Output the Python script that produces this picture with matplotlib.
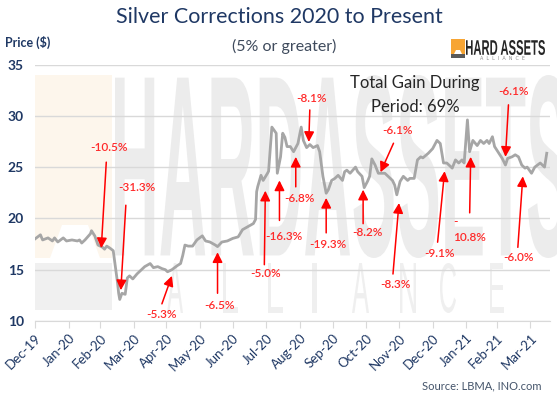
import matplotlib
matplotlib.use("Agg")
import matplotlib.pyplot as plt
import matplotlib.transforms as mtransforms
from matplotlib.textpath import TextPath
from matplotlib.patches import PathPatch, Rectangle, Polygon
from matplotlib.font_manager import FontProperties
import pandas as pd

W, H = 557, 397

# silver price
dates = [
    "2019-12-31", "2020-01-05", "2020-01-07", "2020-01-12", "2020-01-16", "2020-01-18",
    "2020-01-21", "2020-01-26", "2020-01-29", "2020-02-03", "2020-02-08", "2020-02-10",
    "2020-02-12", "2020-02-15", "2020-02-20", "2020-02-21", "2020-02-24", "2020-02-27",
    "2020-03-02", "2020-03-04", "2020-03-06", "2020-03-09", "2020-03-12", "2020-03-14",
    "2020-03-16", "2020-03-17", "2020-03-18", "2020-03-20", "2020-03-23", "2020-03-25",
    "2020-03-27", "2020-03-30", "2020-04-03", "2020-04-08", "2020-04-10", "2020-04-15",
    "2020-04-18", "2020-04-22", "2020-04-26", "2020-04-29", "2020-05-01", "2020-05-05",
    "2020-05-10", "2020-05-13", "2020-05-15", "2020-05-17", "2020-05-20", "2020-05-24",
    "2020-05-28", "2020-06-02", "2020-06-05", "2020-06-09", "2020-06-14", "2020-06-16",
    "2020-06-20", "2020-06-25", "2020-06-30", "2020-07-05", "2020-07-09", "2020-07-14",
    "2020-07-19", "2020-07-21", "2020-07-22", "2020-07-23", "2020-07-26", "2020-07-28",
    "2020-08-01", "2020-08-02", "2020-08-05", "2020-08-09", "2020-08-10", "2020-08-13",
    "2020-08-15", "2020-08-17", "2020-08-19", "2020-08-22", "2020-08-25", "2020-08-29",
    "2020-09-01", "2020-09-03", "2020-09-06", "2020-09-09", "2020-09-12", "2020-09-16",
    "2020-09-18", "2020-09-21", "2020-09-24", "2020-09-26", "2020-09-29", "2020-10-02",
    "2020-10-05", "2020-10-09", "2020-10-11", "2020-10-13", "2020-10-16", "2020-10-21",
    "2020-10-23", "2020-10-27", "2020-10-29", "2020-11-01", "2020-11-03", "2020-11-05",
    "2020-11-08", "2020-11-11", "2020-11-15", "2020-11-17", "2020-11-20", "2020-11-24",
    "2020-11-26", "2020-11-28", "2020-12-01", "2020-12-04", "2020-12-08", "2020-12-10",
    "2020-12-14", "2020-12-17", "2020-12-20", "2020-12-22", "2020-12-27", "2020-12-31",
    "2021-01-04", "2021-01-07", "2021-01-10", "2021-01-13", "2021-01-18", "2021-01-21",
    "2021-01-24", "2021-01-27", "2021-01-29", "2021-02-01", "2021-02-03", "2021-02-06",
    "2021-02-10", "2021-02-13", "2021-02-16", "2021-02-19", "2021-02-21", "2021-02-24",
    "2021-02-26", "2021-03-01", "2021-03-05", "2021-03-08", "2021-03-10", "2021-03-14",
    "2021-03-17", "2021-03-20", "2021-03-23", "2021-03-26", "2021-03-28", "2021-04-01",
    "2021-04-04", "2021-04-09", "2021-04-13", "2021-04-15",
]
prices = [
    18.0, 18.4, 17.9, 18.1, 17.8, 18.1,
    17.7, 18.1, 17.8, 17.9, 17.8, 17.9,
    17.6, 17.9, 18.5, 18.8, 18.3, 17.4,
    17.2, 17.0, 17.3, 17.1, 16.85, 15.3,
    13.7, 12.7, 12.1, 12.7, 12.6, 14.2,
    14.4, 14.1, 14.6, 15.1, 15.3, 15.6,
    15.2, 15.3, 15.1, 15.0, 14.8, 15.0,
    15.4, 15.6, 16.4, 17.4, 17.3, 17.3,
    17.9, 18.3, 17.8, 17.7, 17.4, 17.25,
    17.7, 17.8, 18.05, 18.2, 18.9, 19.2,
    19.5, 19.9, 22.6, 23.1, 24.2, 23.7,
    24.4, 24.6, 28.9, 28.3, 24.4, 26.0,
    28.3, 27.9, 27.0, 27.0, 26.5, 27.3,
    28.9, 27.6, 26.9, 27.2, 26.9, 27.1,
    26.5, 24.1, 22.45, 22.8, 23.7, 23.9,
    24.2, 23.7, 24.55, 24.7, 24.4, 25.0,
    24.55, 24.1, 23.0, 23.6, 24.1, 25.8,
    25.2, 24.4, 24.4, 24.4, 24.1, 23.7,
    23.25, 22.3, 23.6, 24.1, 23.7, 23.9,
    23.9, 25.7, 26.0, 25.9, 26.35, 26.8,
    27.6, 27.3, 25.4, 25.4, 24.9, 25.7,
    25.4, 25.7, 25.4, 29.6, 26.5, 27.6,
    27.1, 27.6, 27.3, 27.6, 27.3, 27.96,
    27.0, 26.5, 25.85, 25.2, 25.85, 26.0,
    26.2, 26.0, 25.2, 24.9, 25.0, 24.4,
    25.0, 25.4, 25.0, 26.35,
]

tick_dates = ["2019-12-31", "2020-01-31", "2020-02-29", "2020-03-31", "2020-04-30",
              "2020-05-31", "2020-06-30", "2020-07-31", "2020-08-31", "2020-09-30",
              "2020-10-31", "2020-11-30", "2020-12-31", "2021-01-31", "2021-02-28",
              "2021-03-31"]
tick_labels = ["Dec-19", "Jan-20", "Feb-20", "Mar-20", "Apr-20", "May-20", "Jun-20",
               "Jul-20", "Aug-20", "Sep-20", "Oct-20", "Nov-20", "Dec-20", "Jan-21",
               "Feb-21", "Mar-21"]
y_ticks = [10, 15, 20, 25, 30, 35]

# corrections: label, date of the low, level of the low
corr_labels = ["-10.5%", "-31.3%", "-5.3%", "-6.5%", "-5.0%", "-16.3%", "-6.8%", "-8.1%",
               "-19.3%", "-8.2%", "-6.1%", "-8.3%", "-9.1%", "10.8%", "-6.1%", "-6.0%"]
corr_dates = ["2020-03-01", "2020-03-19", "2020-05-05", "2020-06-16", "2020-07-30",
              "2020-08-12", "2020-08-27", "2020-09-08", "2020-09-24", "2020-10-28",
              "2020-11-13", "2020-11-30", "2021-01-11", "2021-02-04", "2021-03-08",
              "2021-03-24"]
corr_levels = [17.1, 13.0, 14.4, 16.7, 22.7, 23.7, 26.0, 27.45, 22.0, 22.8, 24.5, 21.5,
               24.6, 26.0, 26.0, 24.1]
# arrow start and label offsets (pixels from the arrow tip)
arrow_off = [(5, 86), (5, 85), (-10, -28), (0, -41), (-1, -74), (0, -40), (0, -30), (1, 32),
             (0, -35), (0, -34), (13, 29), (-6, -71), (-7, -71), (-1, -56), (3, 52), (-5, -71)]
label_off = [(8, 101), (16, 103), (-10, -39), (2, -53), (0, -83), (4, -56), (4, -42), (3, 43),
             (2, -47), (4, -43), (17, 42), (-4, -81), (-5, -82), (-1, -81), (8, 65), (-4, -81)]

NAVY = "#1f3864"
RED = "#ff0000"
FONT = "Lato"

fig = plt.figure(figsize=(W / 100, H / 100), dpi=100)


def fx(x):
    return x / W


def fy(y):
    return 1 - y / H


def text_in_box(s, x0, y0, x1, y1, color, weight="bold", family="Liberation Sans", z=-5):
    fp = FontProperties(family=family, weight=weight)
    tp = TextPath((0, 0), s, prop=fp, size=100)
    bb = tp.get_extents()
    tr = (mtransforms.Affine2D().translate(-bb.x0, -bb.y0)
          .scale((x1 - x0) / bb.width / W, (y1 - y0) / bb.height / H)
          .translate(fx(x0), fy(y1)))
    fig.add_artist(PathPatch(tr.transform_path(tp), facecolor=color, edgecolor="none",
                             transform=fig.transFigure, zorder=z))


# faded logo watermark behind the plot
fig.add_artist(Rectangle((fx(35), fy(258)), 77 / W, 183 / H, transform=fig.transFigure,
                         facecolor="#fdf6ec", edgecolor="none", zorder=-6))
fig.add_artist(Polygon([(fx(50), fy(258)), (fx(62), fy(225)), (fx(88), fy(225)), (fx(100), fy(258))],
                       transform=fig.transFigure, facecolor="white", edgecolor="none", zorder=-5))
fig.add_artist(Rectangle((fx(35), fy(310)), 77 / W, 47 / H, transform=fig.transFigure,
                         facecolor="#f0f0f0", edgecolor="none", zorder=-6))
text_in_box("HARDASSETS", 115, 75, 568, 258, "#ececec")
for ch, x0, x1 in [("A", 167, 183), ("L", 223, 238), ("L", 268, 283), ("I", 312, 317),
                   ("A", 352, 369), ("N", 400, 416), ("C", 440, 456), ("E", 490, 504)]:
    text_in_box(ch, x0, 263, x1, 313, "#efefef", weight="normal")

ax = fig.add_axes([fx(35), fy(321), 515 / W, 256.5 / H])
ax.set_facecolor("none")
ax.plot(pd.to_datetime(dates), prices, color="#a6a6a6", lw=2.0, solid_joinstyle="round", zorder=3)

ax.set_xlim(pd.Timestamp("2019-12-31"), pd.Timestamp("2021-04-18"))
ax.set_ylim(10, 35)
ax.set_yticks(y_ticks)
ax.set_yticklabels([str(v) for v in y_ticks], fontfamily=FONT, fontweight="bold",
                   fontsize=10, color=NAVY)
ax.set_xticks(pd.to_datetime(tick_dates))
ax.set_xticklabels(tick_labels, rotation=45, ha="right", rotation_mode="anchor",
                   fontfamily=FONT, fontsize=9.5, color=NAVY)
ax.tick_params(axis="y", length=0, pad=8)
ax.tick_params(axis="x", length=5, color="#d9d9d9", pad=3)
ax.yaxis.grid(True, color="#d9d9d9", lw=1)
ax.set_axisbelow(True)
for side in ["left", "right", "top"]:
    ax.spines[side].set_visible(False)
ax.spines["bottom"].set_color("#d9d9d9")

for lab, d, lev, ao, lo in zip(corr_labels, corr_dates, corr_levels, arrow_off, label_off):
    tip = (pd.Timestamp(d), lev)
    ax.annotate("", xy=tip, xytext=ao, textcoords="offset pixels",
                arrowprops=dict(arrowstyle="-|>,head_length=0.6,head_width=0.3", color=RED,
                                lw=1.1, shrinkA=0, shrinkB=0), annotation_clip=False, zorder=4)
    ax.annotate(lab, xy=tip, xytext=lo, textcoords="offset pixels", ha="center", va="center",
                fontfamily=FONT, fontweight="semibold", fontsize=8.5, color="#ff2a2a",
                annotation_clip=False, zorder=5)
# stray dash left of the 10.8% label
ax.annotate("-", xy=(pd.Timestamp(corr_dates[13]), corr_levels[13]), xytext=(-15, -65),
            textcoords="offset pixels", ha="center", va="center", fontfamily=FONT,
            fontweight="semibold", fontsize=8.5, color="#ff2a2a", annotation_clip=False)

fig.text(fx(415), fy(83), "Total Gain During", ha="center", va="center", fontfamily=FONT,
         fontsize=12, color="#262626")
fig.text(fx(415), fy(107), "Period: 69%", ha="center", va="center", fontfamily=FONT,
         fontsize=12, color="#262626")

# titles
fig.text(fx(279), fy(17), "Silver Corrections 2020 to Present", ha="center", va="center",
         fontfamily=FONT, fontsize=15.5, color=NAVY)
fig.text(fx(284), fy(46), "(5% or greater)", ha="center", va="center", fontfamily=FONT,
         fontsize=11.5, color="#3e4a5c")
fig.text(fx(5), fy(42), "Price ($)", ha="left", va="center", fontfamily=FONT,
         fontweight="bold", fontsize=9, color=NAVY)
fig.text(fx(541), fy(386), "Source: LBMA, INO.com", ha="right", va="center",
         fontfamily=FONT, fontsize=8, color="#44546a")

# logo top right
fig.add_artist(Rectangle((fx(451), fy(54)), 14 / W, 15 / H, transform=fig.transFigure,
                         facecolor="#f7a534", edgecolor="none"))
fig.add_artist(Polygon([(fx(454), fy(54)), (fx(456), fy(50)), (fx(460), fy(50)), (fx(462), fy(54))],
                       transform=fig.transFigure, facecolor="white", edgecolor="none"))
fig.add_artist(Rectangle((fx(451), fy(58)), 14 / W, 4 / H, transform=fig.transFigure,
                         facecolor="#5a5a5a", edgecolor="none"))
text_in_box("HARD ASSETS", 466, 40, 545, 55, "#262626", z=2)
fig.text(fx(502), fy(59), "A  L  L  I  A  N  C  E", ha="center", va="center", fontsize=3.5,
         color="#8c8c8c")

fig.savefig("out.png", dpi=100)
